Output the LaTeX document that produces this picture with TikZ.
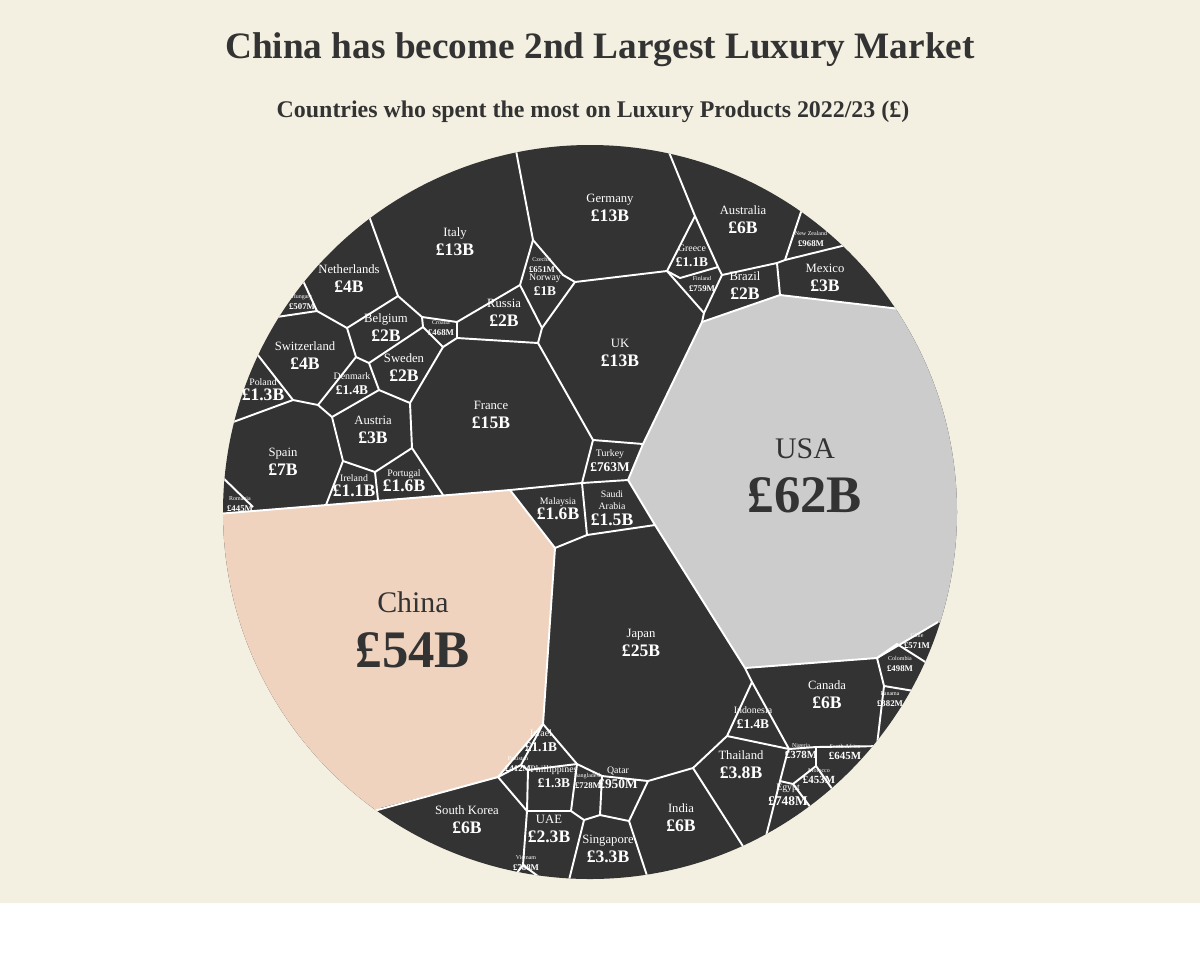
\documentclass[tikz,border=0pt]{standalone}
\usepackage{fontspec}
\setmainfont{Liberation Serif}
\usepackage{xcolor}
\definecolor{paper}{HTML}{F4F0E1}
\definecolor{ink}{HTML}{333333}
\definecolor{chinac}{HTML}{F0D3BE}
\definecolor{usac}{HTML}{CCCCCC}
\newcommand\vL[1]{{\fontsize{5.0}{5.4}\selectfont\bfseries #1}}
\newcommand\vM[1]{{\fontsize{3.8}{4.2}\selectfont\bfseries #1}}
\newcommand\vT[1]{{\fontsize{3.1}{3.5}\selectfont\bfseries #1}}
\newcommand\vS[1]{{\fontsize{2.5}{2.9}\selectfont\bfseries #1}}
\newcommand\vH[1]{{\fontsize{15}{16}\selectfont\bfseries #1}}
\begin{document}
\begin{tikzpicture}[x=0.01cm, y=-0.01cm,
        cellL/.style={align=center, text=white, inner sep=0, font=\fontsize{3.6}{5.4}\selectfont},
        cellM/.style={align=center, text=white, inner sep=0, font=\fontsize{2.8}{4.2}\selectfont},
        cellS/.style={align=center, text=white, inner sep=0, font=\fontsize{1.7}{2.9}\selectfont},
        cellH/.style={align=center, text=ink, inner sep=0, font=\fontsize{8.5}{15.5}\selectfont},
        edge/.style={white, line width=0.55pt, line join=round},
    ]
    \useasboundingbox (0,0) rectangle (1200,960);
    \fill[white] (0,0) rectangle (1200,960);
    \fill[paper] (0,0) rectangle (1200,903);
    \node[text=ink, font=\fontsize{10.6}{12}\selectfont\bfseries] (title) at (600,50) {China has become 2nd Largest Luxury Market};
    \node[text=ink, font=\fontsize{6.8}{7}\selectfont\bfseries] (sub) at (593,112) {Countries who spent the most on Luxury Products 2022/23 (£)};
    \fill[ink] (590,512) circle (367);
    \begin{scope}
        \clip (590,512) circle (367);
        % the two big cells
        \fill[chinac] (180,517) -- (510,490) -- (555,548) -- (543,724) -- (498,777) -- (380,808) -- (300,920) -- (150,700) -- cycle;
        \fill[usac] (702,322) -- (780,295) -- (893,308) -- (1000,290) -- (1000,650) -- (938,622) -- (877,658) -- (745,668) -- (655,525) -- (628,480) -- (643,444) -- cycle;
        % borders, upper half
        \draw[edge] (180,517) -- (510,490) -- (582,483) -- (628,480);
        \draw[edge] (514,140) -- (533,240) -- (520,285) -- (457,322) -- (422,317) -- (398,296) -- (365,205);
        \draw[edge] (533,240) -- (563,275) -- (575,282) -- (667,271) -- (695,216) -- (664,140);
        \draw[edge] (520,285) -- (542,328) -- (575,282);
        \draw[edge] (542,328) -- (538,343) -- (457,338) -- (457,322);
        \draw[edge] (538,343) -- (593,440) -- (643,444) -- (702,322) -- (704,313) -- (667,271);
        \draw[edge] (593,440) -- (582,483);
        \draw[edge] (643,444) -- (628,480) -- (655,525) -- (587,535) -- (555,548) -- (510,490);
        \draw[edge] (582,483) -- (587,535);
        \draw[edge] (695,216) -- (718,267) -- (680,278) -- (667,271);
        \draw[edge] (718,267) -- (722,275) -- (704,313);
        \draw[edge] (722,275) -- (777,263) -- (785,260) -- (805,200);
        \draw[edge] (785,260) -- (850,244);
        \draw[edge] (777,263) -- (780,295) -- (702,322);
        \draw[edge] (780,295) -- (900,309);
        % borders, left
        \draw[edge] (298,270) -- (317,311) -- (270,318);
        \draw[edge] (317,311) -- (347,328) -- (398,296);
        \draw[edge] (347,328) -- (356,357) -- (318,405) -- (293,400) -- (250,345);
        \draw[edge] (293,400) -- (225,425);
        \draw[edge] (356,357) -- (369,363) -- (423,327) -- (422,317);
        \draw[edge] (423,327) -- (443,347) -- (457,338);
        \draw[edge] (443,347) -- (410,403) -- (379,390) -- (369,363);
        \draw[edge] (379,390) -- (332,417) -- (318,405);
        \draw[edge] (332,417) -- (343,461) -- (375,472) -- (412,448) -- (410,403);
        \draw[edge] (343,461) -- (326,505);
        \draw[edge] (375,472) -- (378,500);
        \draw[edge] (412,448) -- (443,495);
        \draw[edge] (215,470) -- (253,507);
        % borders, lower half
        \draw[edge] (555,548) -- (543,724) -- (498,777) -- (370,812);
        \draw[edge] (543,724) -- (521,765) -- (498,777) -- (527,811) -- (523,865) -- (500,895);
        \draw[edge] (521,765) -- (528,770) -- (577,764) -- (602,776) -- (648,781) -- (693,768) -- (727,736) -- (752,682) -- (745,668) -- (655,525);
        \draw[edge] (543,724) -- (577,764);
        \draw[edge] (528,770) -- (527,811) -- (571,811) -- (577,764);
        \draw[edge] (571,811) -- (584,820) -- (600,815) -- (602,776);
        \draw[edge] (600,815) -- (629,821) -- (648,781);
        \draw[edge] (584,820) -- (564,900);
        \draw[edge] (629,821) -- (655,900);
        \draw[edge] (523,865) -- (570,900);
        \draw[edge] (693,768) -- (755,865);
        \draw[edge] (727,736) -- (789,749) -- (752,682);
        \draw[edge] (745,668) -- (877,658) -- (938,622);
        \draw[edge] (789,749) -- (787,754) -- (780,781) -- (760,860);
        \draw[edge] (789,749) -- (816,747) -- (885,746);
        \draw[edge] (816,747) -- (816,766) -- (793,784) -- (780,781);
        \draw[edge] (793,784) -- (820,820);
        \draw[edge] (816,766) -- (840,800);
        \draw[edge] (877,658) -- (884,686) -- (877,745) -- (850,790);
        \draw[edge] (884,686) -- (920,692);
        \draw[edge] (877,658) -- (897,644) -- (930,665);
    \end{scope}
    % labels
    \node[cellH] (usa) at (805,476) {USA\\\vH{£62B}};
    \node[cellH] (china) at (413,630) {China\\\vH{£54B}};
    \node[cellL] (italy) at (455,242) {Italy\\\vL{£13B}};
    \node[cellL] (germany) at (610,208) {Germany\\\vL{£13B}};
    \node[cellL] (uk) at (620,353) {UK\\\vL{£13B}};
    \node[cellL] (france) at (491,415) {France\\\vL{£15B}};
    \node[cellL] (japan) at (641,643) {Japan\\\vL{£25B}};
    \node[cellL] (netherlands) at (349,279) {Netherlands\\\vL{£4B}};
    \node[cellL] (switzerland) at (305,356) {Switzerland\\\vL{£4B}};
    \node[cellL] (belgium) at (386,328) {Belgium\\\vL{£2B}};
    \node[cellL] (russia) at (504,313) {Russia\\\vL{£2B}};
    \node[cellL] (sweden) at (404,368) {Sweden\\\vL{£2B}};
    \node[cellL] (austria) at (373,430) {Austria\\\vL{£3B}};
    \node[cellL] (spain) at (283,462) {Spain\\\vL{£7B}};
    \node[cellM] (poland) at (263,390) {Poland\\\vL{£1.3B}};
    \node[cellM] (ireland) at (354,486) {Ireland\\\vL{£1.1B}};
    \node[cellM] (portugal) at (404,481) {Portugal\\\vL{£1.6B}};
    \node[cellL] (australia) at (743,220) {Australia\\\vL{£6B}};
    \node[cellL] (mexico) at (825,278) {Mexico\\\vL{£3B}};
    \node[cellL] (brazil) at (745,286) {Brazil\\\vL{£2B}};
    \node[cellM] (greece) at (692,256) {Greece\\\vM{£1.1B}};
    \node[cellM] (malaysia) at (558,509) {Malaysia\\\vL{£1.6B}};
    \node[cellM, font=\fontsize{2.8}{3.4}\selectfont] (saudi) at (612,508) {Saudi\\Arabia\\[1.2pt]\vL{£1.5B}};
    \node[cellL] (canada) at (827,695) {Canada\\\vL{£6B}};
    \node[cellL] (thailand) at (741,765) {Thailand\\\vL{£3.8B}};
    \node[cellL] (india) at (681,818) {India\\\vL{£6B}};
    \node[cellL] (singapore) at (608,849) {Singapore\\\vL{£3.3B}};
    \node[cellL] (uae) at (549,829) {UAE\\\vL{£2.3B}};
    \node[cellL] (korea) at (467,820) {South Korea\\\vL{£6B}};
    \node[cellM] (norway) at (545,285) {Norway\\\vM{£1B}};
    \node[cellM] (denmark) at (352,384) {Denmark\\\vM{£1.4B}};
    \node[cellM] (turkey) at (610,461) {Turkey\\\vM{£763M}};
    \node[cellM] (indonesia) at (753,718) {Indonesia\\\vM{£1.4B}};
    \node[cellM] (israel) at (541,741) {Israel\\\vM{£1.1B}};
    \node[cellM] (philippines) at (554,777) {Phillippines\\\vM{£1.3B}};
    \node[cellM] (qatar) at (618,778) {Qatar\\\vM{£950M}};
    \node[cellS] (nigeria) at (801,751) {Nigeria\\\vT{£378M}};
    \node[cellS] (safrica) at (845,752) {South Africa\\\vT{£645M}};
    \node[cellS] (morocco) at (819,776) {Morocco\\\vT{£453M}};
    \node[cellM] (egypt) at (788,795) {Egypt\\\vM{£748M}};
    \node[cellS] (hungary) at (302,302) {Hungary\\\vS{£507M}};
    \node[cellS] (croatia) at (441,328) {Croatia\\\vS{£468M}};
    \node[cellS] (czechia) at (542,265) {Czechia\\\vS{£651M}};
    \node[cellS] (finland) at (702,284) {Finland\\\vS{£759M}};
    \node[cellS] (nzealand) at (811,239) {New Zealand\\\vS{£968M}};
    \node[cellS] (romania) at (240,504) {Romania\\\vS{£445M}};
    \node[cellS] (chile) at (917,641) {Chile\\\vS{£571M}};
    \node[cellS] (colombia) at (900,664) {Colombia\\\vS{£498M}};
    \node[cellS] (panama) at (890,699) {Panama\\\vS{£382M}};
    \node[cellS] (pakistan) at (518,764) {Pakistan\\\vS{£412M}};
    \node[cellS] (bangladesh) at (588,781) {Bangladesh\\\vS{£728M}};
    \node[cellS] (vietnam) at (526,863) {Vietnam\\\vS{£788M}};
\end{tikzpicture}
\end{document}
